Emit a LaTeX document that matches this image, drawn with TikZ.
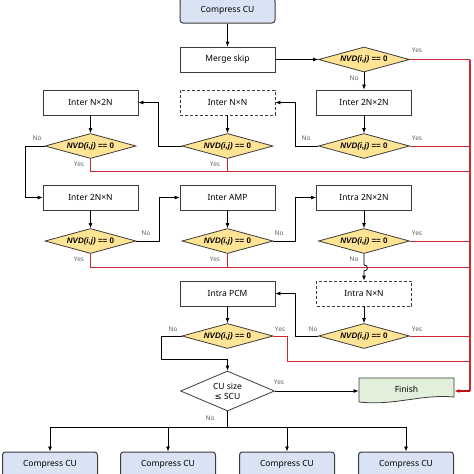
\documentclass[tikz,border=0pt]{standalone}
\usepackage{fontspec}
\setmainfont{Noto Sans}
\newfontfamily\nvdfont{Liberation Sans}
\newfontfamily\symfont{DejaVu Sans}
\usetikzlibrary{shapes.geometric,arrows.meta}
\definecolor{cublue}{RGB}{218,227,243}
\definecolor{fingreen}{RGB}{226,239,218}
\definecolor{nvdyellow}{RGB}{255,228,150}
\definecolor{nvdred}{RGB}{210,40,50}
\definecolor{finred}{RGB}{190,15,25}
\definecolor{edgegray}{RGB}{60,60,60}
\newcommand{\nvdtest}{{\nvdfont\bfseries\itshape NVD(i,j)\upshape{} == 0}}

\begin{document}
\begin{tikzpicture}[x=1pt,y=-1pt,line width=0.8pt,>={Latex[length=5pt,width=4pt]}]
\useasboundingbox (0,0) rectangle (474,474);

      % finish box (wavy bottom)
      \draw[edgegray,fill=fingreen] (359,378) -- (454,378) -- (454,397)
        .. controls (420,394) and (395,406) .. (359,402) -- cycle;

      \begin{scope}[every node/.style={rectangle,draw=edgegray,minimum width=95pt,minimum height=25pt,font=\fontsize{8.5}{10}\selectfont}]
        \node[rounded corners=3pt,fill=cublue,line width=1pt] (c0) at (227.5,10.5) {Compress CU};
        \node (skip) at (227.5,59.5) {Merge skip};
        \node (b2n2n) at (364,102.5) {Inter 2N×2N};
        \node[dash pattern=on 3pt off 2pt] (bnn) at (227.5,102.5) {Inter N×N};
        \node (bn2n) at (90.5,102.5) {Inter N×2N};
        \node (b2nn) at (90.5,197.5) {Inter 2N×N};
        \node (amp) at (227.5,197.5) {Inter AMP};
        \node (a2n2n) at (364,197.5) {Intra 2N×2N};
        \node[dash pattern=on 3pt off 2pt] (ann) at (364,293.5) {Intra N×N};
        \node (pcm) at (227.5,293.5) {Intra PCM};
        \node[draw=none] (f) at (406.5,389) {Finish};
        \node[rounded corners=3pt,fill=cublue,line width=1pt] (c1) at (50,464.5) {Compress CU};
        \node[rounded corners=3pt,fill=cublue,line width=1pt] (c2) at (168,464.5) {Compress CU};
        \node[rounded corners=3pt,fill=cublue,line width=1pt] (c3) at (287,464.5) {Compress CU};
        \node[rounded corners=3pt,fill=cublue,line width=1pt] (c4) at (406,464.5) {Compress CU};
      \end{scope}

      \begin{scope}[every node/.style={diamond,draw=edgegray,fill=nvdyellow,aspect=3.6,inner sep=0pt,minimum width=91pt,minimum height=25pt,font=\fontsize{8}{9}\selectfont}]
        \node (d1) at (364,59.5) {\nvdtest};
        \node (d2) at (364,146) {\nvdtest};
        \node (d3) at (227.5,146) {\nvdtest};
        \node (d4) at (90.5,146) {\nvdtest};
        \node (d5) at (90.5,241) {\nvdtest};
        \node (d6) at (227.5,241) {\nvdtest};
        \node (d7) at (364,241) {\nvdtest};
        \node (d8) at (364,336) {\nvdtest};
        \node (d9) at (227.5,336) {\nvdtest};
        \node[fill=white,aspect=2.35,minimum width=94pt,minimum height=40pt,align=center,font=\fontsize{8.5}{10}\selectfont] (s) at (227.5,391) {CU size\\{\symfont ≤} SCU};
      \end{scope}

      \begin{scope}[every node/.style={inner sep=0pt,text=gray!75!black,font=\fontsize{6.5}{7}\selectfont}]
        \node (y1) at (417,50) {Yes};
        \node (n1) at (354,78) {No};
        \node (n2) at (306,138) {No};
        \node (y2) at (417,138) {Yes};
        \node (y3) at (215,164) {Yes};
        \node (n4) at (37,138) {No};
        \node (y4) at (79,164) {Yes};
        \node (n5) at (146,233) {No};
        \node (y5) at (79,259) {Yes};
        \node (n6) at (279,233) {No};
        \node (y6) at (215,259) {Yes};
        \node (y7) at (417,233) {Yes};
        \node (n7) at (354,259) {No};
        \node (n8) at (313,329) {No};
        \node (y8) at (417,329) {Yes};
        \node (n9) at (173,329) {No};
        \node (y9) at (280,329) {Yes};
        \node (ys) at (279,382) {Yes};
        \node (ns) at (210,418) {No};
      \end{scope}

      % yes branches
      \begin{scope}[nvdred,line width=1pt]
        \coordinate (r) at (470,391);
        \draw[line width=1.4pt] (d1.east -| r) -- (r);
        \draw (d1.east) -- (d1.east -| r);
        \draw (d2.east) -- (d2.east -| r);
        \draw (d4.south) -- ++(0,13) coordinate (h1) -- (h1 -| r);
        \draw (d3.south) -- (d3.south |- h1);
        \draw (d5.south) -- ++(0,14) coordinate (h2) -- (h2 -| r);
        \draw (d6.south) -- (d6.south |- h2);
        \draw (d7.east) -- (d7.east -| r);
        \draw (d8.east) -- (d8.east -| r);
        \draw (d9.east) -- ++(14,0) -- ++(0,25) coordinate (h3) -- (h3 -| r);
        \draw[->,finred,line width=1.4pt] (r) -- (r -| f.east);
      \end{scope}

      % no branches
      \begin{scope}[every edge/.style={draw,->}]
        \path (c0) edge (skip);
        \path (skip) edge (d1);
        \path (d1) edge (b2n2n);
        \path (b2n2n) edge (d2);
        \path (bnn) edge (d3);
        \path (bn2n) edge (d4);
        \path (b2nn) edge (d5);
        \path (amp) edge (d6);
        \path (a2n2n) edge (d7);
        \path (ann) edge (d8);
        \path (pcm) edge (d9);
        \path (s.east) edge (s.east -| f.west);
      \end{scope}

      \draw[->] (d2.west) -- ++(-23,0) |- (bnn.east);
      \draw[->] (d3.west) -- ++(-23,0) |- (bn2n.east);
      \draw[->] (d4.west) -- ++(-19,0) |- (b2nn.west);
      \draw[->] (d5.east) -- ++(23,0) |- (amp.west);
      \draw[->] (d6.east) -- ++(22,0) |- (a2n2n.west);
      \draw[->] (d7.south) -- ++(0,11) to[out=0,in=0,looseness=2] ++(0,6) -- (ann.north);
      \draw[->] (d8.west) -- ++(-23,0) |- (pcm.east);
      \draw[->] (d9.west) -- ++(-20,0) -- ++(0,23) -| (s.north);

      \coordinate (bus) at (227.5,427);
      \draw (s.south) -- (bus);
      \draw[->] (bus) -| (c1);
      \draw[->] (bus) -| (c2);
      \draw[->] (bus) -| (c3);
      \draw[->] (bus) -| (c4);

\end{tikzpicture}
\end{document}
